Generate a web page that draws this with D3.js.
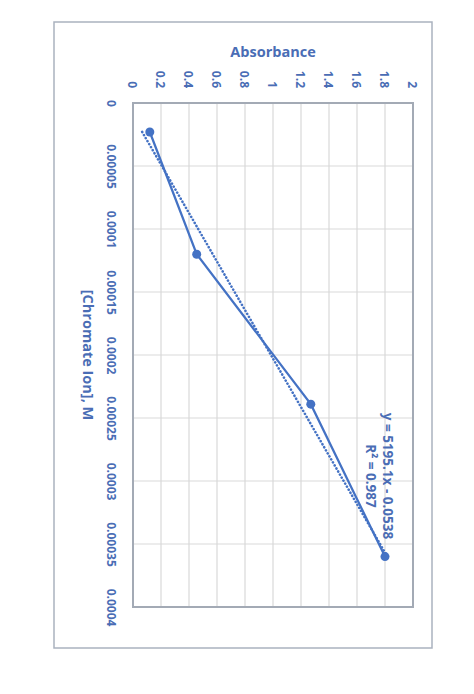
<!DOCTYPE html>
<html>
<head>
<meta charset="utf-8">
<script src="https://cdn.jsdelivr.net/npm/d3@7"></script>
<style>
  body { margin: 0; background: #fff; }
  text { font-family: "Open Sans", "Liberation Sans", sans-serif; fill: #4a6db5; font-weight: bold; }
</style>
</head>
<body>
<div id="chart"></div>
<script>
// Data
var concentration = [0.000023, 0.00012, 0.000239, 0.00036];
var absorbance = [0.12, 0.455, 1.27, 1.80];

var xTickValues = [0, 0.00005, 0.0001, 0.00015, 0.0002, 0.00025, 0.0003, 0.00035, 0.0004];
var xTickLabels = ["0", "0.00005", "0.0001", "0.00015", "0.0002", "0.00025", "0.0003", "0.00035", "0.0004"];
var yTickValues = [0, 0.2, 0.4, 0.6, 0.8, 1, 1.2, 1.4, 1.6, 1.8, 2];
var yTickLabels = ["0", "0.2", "0.4", "0.6", "0.8", "1", "1.2", "1.4", "1.6", "1.8", "2"];

var trendSlope = 5195.1;
var trendIntercept = -0.0538;
var trendText = ["y = 5195.1x - 0.0538", "R\u00b2 = 0.987"];

var blue = "#4472c4";

var svgWidth = 474;
var svgHeight = 694;

// The chart is drawn upright then turned a quarter clockwise
var width = 504;
var height = 280;

var svg = d3.select("#chart")
  .append("svg")
  .attr("width", svgWidth)
  .attr("height", svgHeight);

var chartGroup = svg.append("g")
  .attr("transform", "translate(413, 103) rotate(90)");

// Outer chart frame
chartGroup.append("rect")
  .attr("x", -81)
  .attr("y", -19)
  .attr("width", 626)
  .attr("height", 378)
  .attr("fill", "none")
  .attr("stroke", "#aab2bf")
  .attr("stroke-width", 1.5);

var xScale = d3.scaleLinear()
  .domain([0, 0.0004])
  .range([0, width]);

var yScale = d3.scaleLinear()
  .domain([0, 2])
  .range([height, 0]);

// Gridlines
chartGroup.append("g")
  .selectAll("line")
  .data(xTickValues)
  .enter()
  .append("line")
  .attr("x1", d => xScale(d))
  .attr("x2", d => xScale(d))
  .attr("y1", 0)
  .attr("y2", height)
  .attr("stroke", "#d9d9d9")
  .attr("stroke-width", 1.2);

chartGroup.append("g")
  .selectAll("line")
  .data(yTickValues)
  .enter()
  .append("line")
  .attr("x1", 0)
  .attr("x2", width)
  .attr("y1", d => yScale(d))
  .attr("y2", d => yScale(d))
  .attr("stroke", "#d9d9d9")
  .attr("stroke-width", 1.2);

// Plot border
chartGroup.append("rect")
  .attr("width", width)
  .attr("height", height)
  .attr("fill", "none")
  .attr("stroke", "#a3aab5")
  .attr("stroke-width", 2);

// Axes
var bottomAxis = d3.axisBottom(xScale)
  .tickValues(xTickValues)
  .tickSize(0)
  .tickFormat((d, i) => xTickLabels[i]);

var leftAxis = d3.axisLeft(yScale)
  .tickValues(yTickValues)
  .tickSize(0)
  .tickFormat((d, i) => yTickLabels[i]);

var xAxisG = chartGroup.append("g")
  .attr("transform", `translate(0, ${height})`)
  .call(bottomAxis);
xAxisG.select(".domain").remove();
xAxisG.selectAll("text")
  .attr("y", 22)
  .attr("dy", "0.35em")
  .attr("font-size", "12px");

var yAxisG = chartGroup.append("g")
  .call(leftAxis);
yAxisG.select(".domain").remove();
yAxisG.selectAll("text")
  .attr("x", -15)
  .attr("dy", "0.35em")
  .attr("font-size", "12px");

// Trendline
var trendX = d3.extent(concentration);
chartGroup.append("line")
  .attr("x1", xScale(trendX[0]))
  .attr("y1", yScale(trendSlope * trendX[0] + trendIntercept))
  .attr("x2", xScale(trendX[1]))
  .attr("y2", yScale(trendSlope * trendX[1] + trendIntercept))
  .attr("stroke", blue)
  .attr("stroke-width", 2.6)
  .attr("stroke-linecap", "round")
  .attr("stroke-dasharray", "0.1,3.4");

// Data line and points
var points = concentration.map((c, i) => [c, absorbance[i]]);

var line = d3.line()
  .x(d => xScale(d[0]))
  .y(d => yScale(d[1]));

chartGroup.append("path")
  .datum(points)
  .attr("d", line)
  .attr("fill", "none")
  .attr("stroke", blue)
  .attr("stroke-width", 2.25);

chartGroup.selectAll("circle")
  .data(points)
  .enter()
  .append("circle")
  .attr("cx", d => xScale(d[0]))
  .attr("cy", d => yScale(d[1]))
  .attr("r", 4.5)
  .attr("fill", blue);

// Trendline label
chartGroup.append("g")
  .selectAll("text")
  .data(trendText)
  .enter()
  .append("text")
  .attr("x", 373)
  .attr("y", (d, i) => 25 + i * 17)
  .attr("dy", "0.35em")
  .attr("text-anchor", "middle")
  .attr("font-size", "13.5px")
  .text(d => d);

// Axis titles
chartGroup.append("text")
  .attr("transform", `translate(-51, ${height / 2}) rotate(-90)`)
  .attr("dy", "0.35em")
  .attr("text-anchor", "middle")
  .attr("font-size", "14.5px")
  .text("Absorbance");

chartGroup.append("text")
  .attr("x", width / 2)
  .attr("y", 325)
  .attr("dy", "0.35em")
  .attr("text-anchor", "middle")
  .attr("font-size", "14.5px")
  .text("[Chromate Ion], M");
</script>
</body>
</html>
